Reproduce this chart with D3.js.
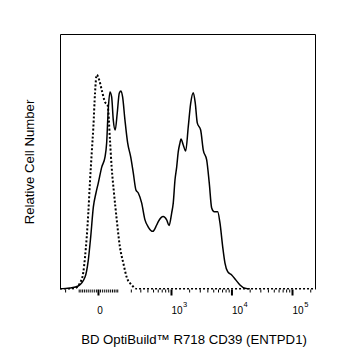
<!DOCTYPE html>
<html>
<head>
<meta charset="utf-8">
<script src="https://cdn.jsdelivr.net/npm/d3@7"></script>
<style>
  html, body { margin: 0; padding: 0; background: #fff; }
  svg text { font-family: "Liberation Sans", Arial, sans-serif; fill: #000; }
</style>
</head>
<body>
<svg id="chart" width="337" height="360"></svg>
<script>
// Stained sample (solid) and isotype/unstained control (dotted).
// Fluorescence intensity in channel units, cell count as percent of the plot height.
const stainedIntensity = [-250, -160, -103, -64, -47, -35, -22, -9.5, 1.4, 18, 34, 42, 50, 59, 68, 77, 88, 100, 113, 124, 135, 152, 173, 199, 223, 250, 276, 317, 363, 414, 495, 576, 613, 743, 847, 930, 1026, 1091, 1165, 1243, 1321, 1410, 1465, 1598, 1752, 1935, 2120, 2340, 2525, 2725, 3100, 3425, 3898, 4303, 4714, 5204, 5921, 6463, 7162, 7818, 8663, 10088, 11875, 13825, 16725, 20230];
const stainedCount = [0, 0.4, 1.2, 4.7, 11.4, 20.5, 32.3, 37.8, 41.7, 48.0, 52.0, 57.5, 70.5, 77.6, 75.6, 66.5, 62.6, 69.3, 77.2, 78.0, 75.6, 66.5, 57.5, 52.0, 45.7, 39.0, 37.8, 33.9, 27.2, 24.4, 22.7, 25.2, 26.5, 28.5, 27.2, 25.0, 29.9, 33.9, 42.9, 48.0, 54.1, 57.5, 59.1, 56.7, 54.3, 63.9, 73.1, 77.3, 73.2, 65.4, 62.6, 54.7, 50.8, 41.7, 31.9, 30.4, 30.4, 26.0, 16.7, 10.2, 6.8, 5.5, 3.5, 1.6, 0.3, 0];

const controlIntensity = [-250, -160, -124, -92, -74, -64, -55, -47, -39, -30, -22, -14, -6, 6, 18, 34, 47, 59, 68, 81, 97, 117, 140, 165, 208, 258, 1000, 10000, 250000];
const controlCount = [0, 0, 0.3, 2.4, 6.3, 12.6, 20.5, 29.9, 41.7, 53.5, 63.8, 77.2, 84.3, 82.3, 78.3, 73.6, 72.4, 58.7, 48.0, 37.8, 27.2, 16.5, 10.2, 4.7, 1.6, 0, 0, 0, 0];

// Axis ticks (biexponential display)
const majorTicks = [0, 1000, 10000, 100000];
const majorLabels = ["0", "10|3", "10|4", "10|5"];
const minorTicks = [-200, -100, -90, -80, -70, -60, -50, -40, -30, -20, -10,
  10, 20, 30, 40, 50, 60, 70, 80, 90,
  100, 200, 300, 400, 500, 600, 700, 800, 900,
  2000, 3000, 4000, 5000, 6000, 7000, 8000, 9000,
  20000, 30000, 40000, 50000, 60000, 70000, 80000, 90000, 200000];
const xTitle = "BD OptiBuild\u2122 R718 CD39 (ENTPD1)";
const yTitle = "Relative Cell Number";

(function draw() {
  const svg = d3.select("#chart");
  const pLeft = 60, pRight = 316, pTop = 34.5, pBottom = 289;

  // arcsinh transform with a linear region around zero
  const cofactor = 125;
  const tr = v => Math.asinh(v / cofactor);
  const xLin = d3.scaleLinear().domain([tr(-250), tr(249000)]).range([pLeft, pRight]);
  const x = v => xLin(tr(v));
  const y = d3.scaleLinear().domain([0, 100]).range([pBottom, pTop + 0.5]);

  // curves are clipped just below the baseline, so the zero-count run reads as a thin line
  svg.append("clipPath").attr("id", "plotclip")
    .append("rect").attr("x", pLeft).attr("y", pTop)
    .attr("width", pRight - pLeft).attr("height", pBottom - pTop + 0.4);

  const line = d3.line().x(d => x(d[0])).y(d => y(d[1])).curve(d3.curveMonotoneX);

  const g = svg.append("g").attr("clip-path", "url(#plotclip)");
  g.append("path")
    .datum(d3.zip(controlIntensity, controlCount))
    .attr("d", line)
    .attr("fill", "none").attr("stroke", "#000").attr("stroke-width", 2)
    .attr("stroke-dasharray", "2,2");
  g.append("path")
    .datum(d3.zip(stainedIntensity, stainedCount))
    .attr("d", line)
    .attr("fill", "none").attr("stroke", "#000").attr("stroke-width", 1.5)
    .attr("stroke-linejoin", "round");

  // frame: left, top and right edges
  svg.append("path")
    .attr("d", `M${pLeft + 0.5},${pBottom}V${pTop}H${pRight - 0.5}V${pBottom}`)
    .attr("fill", "none").attr("stroke", "#000").attr("stroke-width", 1);

  // ticks through d3 axis generators
  const axG = svg.append("g").attr("transform", `translate(0,${pBottom + 0.5})`);
  axG.append("g")
    .call(d3.axisBottom(xLin).tickValues(minorTicks.map(tr)).tickSize(3).tickFormat(""))
    .call(a => a.select(".domain").remove())
    .selectAll("line").attr("stroke", "#000").attr("stroke-width", 1);
  axG.append("g")
    .call(d3.axisBottom(xLin).tickValues(majorTicks.map(tr)).tickSize(6).tickFormat(""))
    .call(a => a.select(".domain").remove())
    .selectAll("line").attr("stroke", "#000").attr("stroke-width", 2);

  // tick labels
  majorTicks.forEach((v, i) => {
    const parts = majorLabels[i].split("|");
    const t = svg.append("text").attr("y", 314).attr("font-size", 10);
    if (parts.length === 1) {
      t.attr("x", x(v) + 2).attr("text-anchor", "middle").text(parts[0]);
    } else {
      t.attr("x", x(v) + 0.5).attr("text-anchor", "start");
      t.append("tspan").text(parts[0]);
      t.append("tspan").attr("font-size", 7.5).attr("dy", -7).attr("dx", 0.5).text(parts[1]);
    }
  });

  // axis titles
  svg.append("text")
    .attr("x", 194).attr("y", 343.5)
    .attr("text-anchor", "middle").attr("font-size", 13.2)
    .text(xTitle);
  svg.append("text")
    .attr("transform", "translate(34,162) rotate(-90)")
    .attr("text-anchor", "middle").attr("font-size", 13.2)
    .text(yTitle);
})();
</script>
</body>
</html>
